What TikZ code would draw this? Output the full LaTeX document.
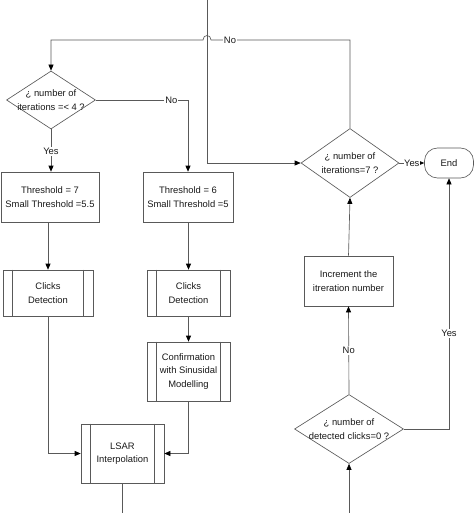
\documentclass[tikz,border=0pt]{standalone}
\usepackage{fontspec}
\setmainfont{Liberation Sans}
\usetikzlibrary{arrows.meta,shapes.geometric}

\begin{document}
\begin{tikzpicture}[x=1pt, y=-1pt,
  every node/.style={font=\fontsize{9.4}{13.3}\selectfont, text=black!90, align=center},
  line/.style={draw=black!65, line width=0.65pt},
  arr/.style={line, -{Triangle[length=6pt,width=5pt,black]}},
  decision/.style={diamond, line, inner sep=0pt},
  box/.style={rectangle, line, inner sep=0pt},
  process/.style={rectangle, line, inner sep=0pt, minimum width=83pt},
  lab/.style={fill=white, inner sep=1pt}]
\useasboundingbox (0,0) rectangle (474,513);

% left branch
\node[decision, minimum width=89pt, minimum height=58pt,
  label={center:{¿ number of\\iterations =< 4 ?}}] (d1) at (51,100) {};
\node[box, minimum width=98pt, minimum height=50pt] (b1) at (50,197) {Threshold = 7\\Small Threshold =5.5};
\node[box, minimum width=90pt, minimum height=50pt] (b2) at (188,197) {Threshold = 6\\Small Threshold =5};
\node[process, minimum width=90pt, minimum height=46pt] (c1) at (48,293) {Clicks\\Detection};
\node[process, minimum height=46pt] (c2) at (188.5,293) {Clicks\\Detection};
\node[process, minimum height=59pt] (cf) at (188.5,371.5) {Confirmation\\with Sinusidal\\Modelling};
\node[process, minimum height=59pt] (ls) at (122.5,453.5) {LSAR\\Interpolation};

% right branch
\node[decision, minimum width=98pt, minimum height=69pt,
  label={center:{¿ number of\\iterations=7 ?}}] (d3) at (350,163) {};
\node[rectangle, line, rounded corners=13pt, minimum width=49pt, minimum height=30pt] (en) at (449,163) {End};
\node[box, minimum width=89pt, minimum height=50pt] (inc) at (348.5,281) {Increment the\\itreration number};
\node[decision, minimum width=109pt, minimum height=69pt,
  label={center:{¿ number of\\detected clicks=0 ?}}] (d4) at (349,429) {};

\coordinate (top) at (207,0);
\coordinate (inlet) at (349,513);
\coordinate (outlet) at (122.5,513);

% side lines of the process boxes
\foreach \n in {c1,c2,cf,ls}
  \draw[line] ([xshift=10pt]\n.north west) -- ([xshift=10pt]\n.south west)
              ([xshift=-10pt]\n.north east) -- ([xshift=-10pt]\n.south east);

% connectors
\draw[arr] (top) |- (d3.west);
\draw[arr] (d3.north) -- (d3.north |- 0,40) -- (211,40)
  .. controls (211,34) and (203,34) .. (203,40) -- (d1.north |- 0,40) -- (d1.north);
\node[lab] (no1) at (230,40) {No};
\draw[arr] (d1.east) -| node[lab, pos=0.41] (no2) {No} (b2.north);
\draw[arr] (d1.south) -- node[lab, pos=0.53] (yes1) {Yes} (d1.south |- b1.north);
\draw[arr] (b1.south -| c1.north) -- (c1.north);
\draw[arr] (b2.south -| c2.north) -- (c2.north);
\draw[arr] (c2.south) -- (cf.north);
\draw[arr] (c1.south) |- (ls.west);
\draw[arr] (cf.south) |- (ls.east);
\draw[line] (ls.south) -- (outlet);
\draw[arr] (inlet) -- (d4.south);
\draw[arr] (d4.north) -- node[lab] (no3) {No} (inc.south);
\draw[arr] (d4.east) -| node[lab, pos=0.69] (yes2) {Yes} (en.south);
\draw[arr] (inc.north) -- (d3.south);
\draw[arr] (d3.east) -- node[lab, inner sep=0.5pt] (yes3) {Yes} (en.west);
\end{tikzpicture}
\end{document}
